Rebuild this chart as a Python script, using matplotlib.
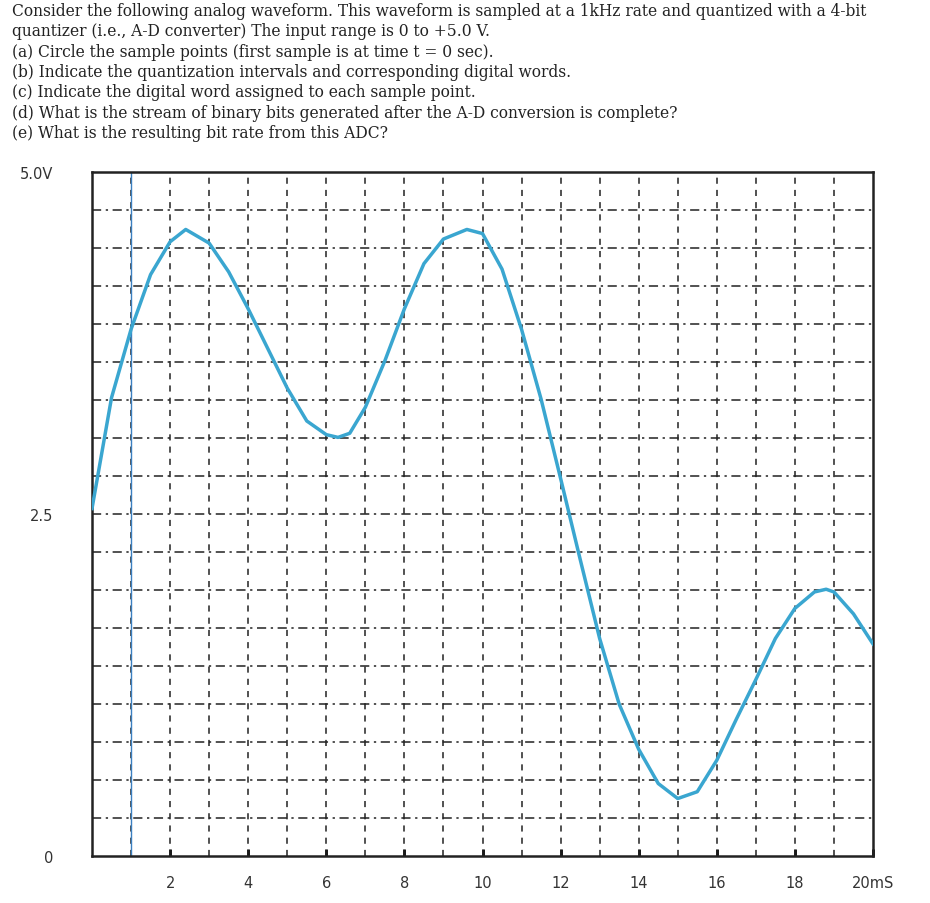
import matplotlib
matplotlib.use("Agg")
import matplotlib.pyplot as plt
import numpy as np

t_ms = [0,0.5,1,1.5,2,2.4,3,3.5,4,4.5,5,5.5,6,6.3,6.6,7,7.5,8,8.5,9,9.6,10,10.5,11,11.5,12,12.5,13,13.5,14,14.5,15,15.5,16,16.5,17,17.5,18,18.5,18.8,19,19.5,20]
volts = [2.54,3.35,3.85,4.25,4.49,4.58,4.48,4.27,4.0,3.71,3.42,3.18,3.08,3.06,3.09,3.28,3.62,4.0,4.33,4.51,4.58,4.55,4.29,3.85,3.34,2.76,2.17,1.59,1.11,0.78,0.53,0.42,0.47,0.70,1.0,1.29,1.59,1.81,1.93,1.95,1.93,1.77,1.55]
x_ticks = [2,4,6,8,10,12,14,16,18,20]
x_labels = ["2","4","6","8","10","12","14","16","18","20mS"]
y_ticks = [0,2.5,5.0]
y_labels = ["0","2.5","5.0V"]
question = ["Consider the following analog waveform. This waveform is sampled at a 1kHz rate and quantized with a 4-bit",
            "quantizer (i.e., A-D converter) The input range is 0 to +5.0 V.",
            "(a) Circle the sample points (first sample is at time t = 0 sec).",
            "(b) Indicate the quantization intervals and corresponding digital words.",
            "(c) Indicate the digital word assigned to each sample point.",
            "(d) What is the stream of binary bits generated after the A-D conversion is complete?",
            "(e) What is the resulting bit rate from this ADC?"]

fig = plt.figure(figsize=(9.3,9.04), dpi=100)
for i, line in enumerate(question):
    fig.text(12/930, 1-(3+i*20.3)/904, line, family="DejaVu Serif", fontsize=11.2, va="top", color="#222")

ax = fig.add_axes([92/930, 1-857/904, 781/930, 684/904])
ax.set_xlim(0,20); ax.set_ylim(0,5)
for xv in np.arange(1,20,1):
    ax.axvline(xv, color="#222", lw=1.1, ls=(0,(4,4)))
for yv in np.linspace(0,5,19)[1:-1]:
    ax.axhline(yv, color="#222", lw=1.1, ls=(0,(6,3,1.5,3)))
ax.axvline(1, color="#3a7fc0", lw=1.0)
ax.plot(t_ms, volts, color="#3aa6d0", lw=2.5, zorder=3)
ax.set_xticks(x_ticks); ax.set_xticklabels(x_labels, fontsize=10.5, color="#333")
ax.set_yticks(y_ticks); ax.set_yticklabels(y_labels, fontsize=10.5, color="#333")
ax.tick_params(axis="y", length=0, pad=28)
ax.tick_params(axis="x", length=5, width=2, direction="in", pad=14)
for s in ax.spines.values():
    s.set_linewidth(1.8); s.set_color("#222")
fig.savefig("out.png", dpi=100)
